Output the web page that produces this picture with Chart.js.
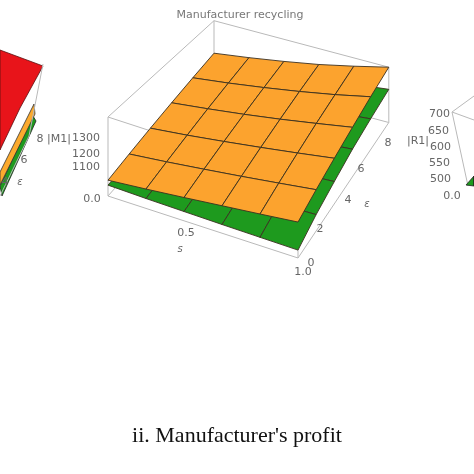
<!DOCTYPE html>
<html>
<head>
<meta charset="utf-8">
<script src="https://cdn.jsdelivr.net/npm/chart.js@4.4.1/dist/chart.umd.min.js"></script>
<style>
  html, body { margin: 0; padding: 0; background: #fff; }
  #wrap { width: 474px; height: 474px; }
</style>
</head>
<body>
<div id="wrap"><canvas id="c" width="474" height="474"></canvas></div>
<script>
// Grid axes of the middle surface plot
const S_VALUES = [0, 0.2, 0.4, 0.6, 0.8, 1.0];
const EPS_VALUES = [0, 1.6, 3.2, 4.8, 6.4, 8.0];
const Z_TICKS = [1100, 1200, 1300];
const S_TICKS = ["0.0", "0.5", "1.0"];
const EPS_TICKS = ["0", "2", "4", "6", "8"];

// M1 profit, rows follow EPS_VALUES, columns follow S_VALUES
const ORANGE_M1 = [
  [1080, 1098, 1118, 1139, 1160, 1182],
  [1097, 1118, 1142, 1167, 1194, 1222],
  [1114, 1138, 1166, 1196, 1228, 1262],
  [1131, 1159, 1190, 1225, 1264, 1305],
  [1148, 1179, 1215, 1255, 1300, 1352],
  [1165, 1200, 1240, 1285, 1340, 1400],
];
const GREEN_M1 = [
  [1055, 1050, 1047, 1044, 1042, 1040],
  [1062, 1064, 1068, 1074, 1081, 1088],
  [1068, 1076, 1088, 1100, 1114, 1128],
  [1075, 1090, 1108, 1127, 1148, 1170],
  [1082, 1103, 1127, 1153, 1180, 1205],
  [1090, 1116, 1146, 1178, 1210, 1240],
];
const R1_TICKS = ["700", "650", "600", "550", "500"];

// rough oblique view used by Mathematica's default box
const Z_MIN = 1000, Z_MAX = 1400;
function proj(s, e, z) {
  const k = e / 8;
  const x = 108 + s * 190 * (1 - 0.08 * k) + k * 106;
  const yb = 196 + s * 62 * (1 - 0.25 * k) - k * 120;
  const h = (z - Z_MIN) / (Z_MAX - Z_MIN) * 79 * (1 - 0.3 * k);
  return { x: x, y: yb - h };
}

const datasets = [];
function poly(pts, fillColor, edge, width) {
  datasets.push({
    type: "line", data: pts.concat([pts[0]]), showLine: true,
    fill: fillColor ? "shape" : false, backgroundColor: fillColor || "transparent",
    borderColor: edge, borderWidth: width, pointRadius: 0, tension: 0,
  });
}
function seg(a, b, color) {
  datasets.push({
    type: "line", data: [a, b], showLine: true, fill: false,
    borderColor: color || "#b9b9b9", borderWidth: 1, pointRadius: 0,
  });
}

// box edges
const boxC = [];
[0, 1].forEach((s) => [0, 8].forEach((e) => [Z_MIN, Z_MAX].forEach((z) => boxC.push([s, e, z]))));
boxC.forEach((a) => boxC.forEach((b) => {
  const diff = (a[0] !== b[0]) + (a[1] !== b[1]) + (a[2] !== b[2]);
  if (diff === 1 && a < b) seg(proj(a[0], a[1], a[2]), proj(b[0], b[1], b[2]));
}));

function surface(table, color) {
  for (let j = EPS_VALUES.length - 2; j >= 0; j--) {
    for (let i = 0; i < S_VALUES.length - 1; i++) {
      poly([
        proj(S_VALUES[i], EPS_VALUES[j], table[j][i]),
        proj(S_VALUES[i + 1], EPS_VALUES[j], table[j][i + 1]),
        proj(S_VALUES[i + 1], EPS_VALUES[j + 1], table[j + 1][i + 1]),
        proj(S_VALUES[i], EPS_VALUES[j + 1], table[j + 1][i]),
      ], color, "#3b3020", 0.9);
    }
  }
}
surface(GREEN_M1, "#1e9a1e");
surface(ORANGE_M1, "#fca32e");

// fragments of the neighbouring plots (cropped at the picture edges)
poly([{ x: 0, y: 186 }, { x: 33, y: 116 }, { x: 36, y: 121 }, { x: 2, y: 196 }], "#1e9a1e", "#222", 0.8);
poly([{ x: 0, y: 172 }, { x: 34, y: 104 }, { x: 35, y: 114 }, { x: 0, y: 185 }], "#fcaa2e", "#333", 0.8);
poly([{ x: 0, y: 50 }, { x: 43, y: 66 }, { x: 20, y: 108 }, { x: 0, y: 150 }], "#e8141a", "#5a1010", 0.8);
seg({ x: 43, y: 64 }, { x: 29, y: 136 });
seg({ x: 29, y: 136 }, { x: 0, y: 196 });
seg({ x: 452, y: 112 }, { x: 468, y: 186 });
seg({ x: 452, y: 112 }, { x: 474, y: 96 });
seg({ x: 452, y: 112 }, { x: 474, y: 120 });
poly([{ x: 466, y: 185 }, { x: 474, y: 176 }, { x: 474, y: 186 }], "#1e9a1e", "#222", 0.8);

const labels = [
  { t: "Manufacturer recycling", x: 240, y: 15, a: "center", f: "11px 'DejaVu Sans'", c: "#777" },
  { t: S_TICKS[0], x: 92, y: 199, a: "center" },
  { t: S_TICKS[1], x: 186, y: 233, a: "center" },
  { t: S_TICKS[2], x: 303, y: 272, a: "center" },
  { t: "s", x: 180, y: 249, a: "center", f: "italic 10px 'DejaVu Sans'" },
  { t: EPS_TICKS[0], x: 311, y: 263, a: "center" },
  { t: EPS_TICKS[1], x: 320, y: 229, a: "center" },
  { t: EPS_TICKS[2], x: 348, y: 200, a: "center" },
  { t: EPS_TICKS[3], x: 361, y: 169, a: "center" },
  { t: EPS_TICKS[4], x: 388, y: 143, a: "center" },
  { t: "ε", x: 367, y: 204, a: "center", f: "italic 10px 'DejaVu Sans'" },
  { t: String(Z_TICKS[2]), x: 100, y: 138, a: "right" },
  { t: String(Z_TICKS[1]), x: 100, y: 154, a: "right" },
  { t: String(Z_TICKS[0]), x: 100, y: 167, a: "right" },
  { t: "|M1|", x: 47, y: 139, a: "left" },
  { t: "8", x: 40, y: 139, a: "center" },
  { t: "6", x: 24, y: 160, a: "center" },
  { t: "4", x: 5, y: 182, a: "center" },
  { t: "ε", x: 20, y: 182, a: "center", f: "italic 10px 'DejaVu Sans'" },
  { t: R1_TICKS[0], x: 450, y: 114, a: "right" },
  { t: R1_TICKS[1], x: 449, y: 131, a: "right" },
  { t: R1_TICKS[2], x: 451, y: 147, a: "right" },
  { t: R1_TICKS[3], x: 450, y: 163, a: "right" },
  { t: R1_TICKS[4], x: 451, y: 179, a: "right" },
  { t: "0.0", x: 452, y: 196, a: "center" },
  { t: "|R1|", x: 418, y: 141, a: "center" },
  { t: "ii. Manufacturer's profit", x: 237, y: 436, a: "center", f: "22px 'Liberation Serif'", c: "#111" },
];

const textPlugin = {
  id: "texts",
  afterDatasetsDraw(chart) {
    const ctx = chart.ctx;
    ctx.save();
    ctx.textBaseline = "middle";
    labels.forEach((l) => {
      ctx.font = l.f || "11px 'DejaVu Sans'";
      ctx.fillStyle = l.c || "#666";
      ctx.textAlign = l.a;
      ctx.fillText(l.t, chart.scales.x.getPixelForValue(l.x), chart.scales.y.getPixelForValue(l.y));
    });
    ctx.restore();
  },
};

datasets.forEach((d, i) => { d.order = datasets.length - i; d.clip = false; });

new Chart(document.getElementById("c"), {
  type: "scatter",
  data: { datasets: datasets },
  options: {
    responsive: false,
    devicePixelRatio: 1,
    animation: false,
    layout: { padding: 0 },
    scales: {
      x: { type: "linear", min: 0, max: 474, display: false },
      y: { type: "linear", min: 0, max: 474, reverse: true, display: false },
    },
    plugins: { legend: { display: false }, tooltip: { enabled: false } },
  },
  plugins: [textPlugin],
});
</script>
</body>
</html>
